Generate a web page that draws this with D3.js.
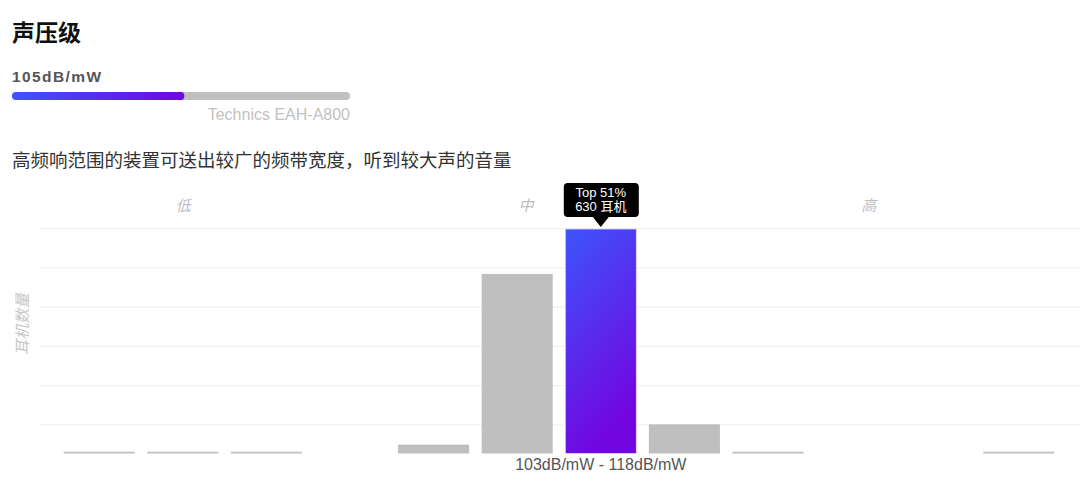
<!DOCTYPE html>
<html>
<head>
<meta charset="utf-8">
<script src="https://cdn.jsdelivr.net/npm/d3@7"></script>
<style>
  body { margin: 0; background: #fff; }
  svg { display: block; font-family: "Liberation Sans", "Noto Sans CJK SC", sans-serif; }
</style>
</head>
<body>
<div id="chart"></div>
<script>
var w = 1080, h = 480;

// data
var bins = ["b1", "b2", "b3", "b4", "b5", "b6", "b7", "b8", "b9", "b10", "b11", "b12"];
var counts = [5, 5, 5, 0, 25, 504, 630, 82, 5, 0, 0, 5];
var zones = ["低", "中", "高"];
var activeBin = "b7";
var activeRange = "103dB/mW - 118dB/mW";
var percentile = 51;
var deviceValue = "105dB/mW";
var deviceName = "Technics EAH-A800";

var svg = d3.select("#chart")
  .append("svg")
  .attr("width", w)
  .attr("height", h);

var defs = svg.append("defs");
var grad = defs.append("linearGradient")
  .attr("id", "barGrad")
  .attr("x1", "0%").attr("y1", "0%")
  .attr("x2", "35%").attr("y2", "100%");
grad.append("stop").attr("offset", "0%").attr("stop-color", "#3d55fb");
grad.append("stop").attr("offset", "100%").attr("stop-color", "#7206e0");

var grad2 = defs.append("linearGradient")
  .attr("id", "trackGrad")
  .attr("x1", "0%").attr("y1", "0%")
  .attr("x2", "100%").attr("y2", "0%");
grad2.append("stop").attr("offset", "0%").attr("stop-color", "#3d55fb");
grad2.append("stop").attr("offset", "100%").attr("stop-color", "#7206e0");

// header
svg.append("text")
  .attr("x", 12).attr("y", 41)
  .style("font-size", "23px")
  .style("font-weight", "bold")
  .style("fill", "#111")
  .text("声压级");

svg.append("text")
  .attr("x", 12).attr("y", 82)
  .style("font-size", "15.5px")
  .style("font-weight", "bold")
  .style("letter-spacing", "1.4px")
  .style("fill", "#555")
  .text(deviceValue);

var track = d3.scaleLinear().domain([0, 100]).range([12, 350]);

svg.append("rect")
  .attr("x", track(0)).attr("y", 92)
  .attr("width", track(100) - track(0)).attr("height", 8)
  .attr("rx", 4)
  .style("fill", "#c0c0c0");

svg.append("rect")
  .attr("x", track(0)).attr("y", 92)
  .attr("width", track(percentile) - track(0)).attr("height", 8)
  .attr("rx", 4)
  .style("fill", "url(#trackGrad)");

svg.append("text")
  .attr("x", track(100)).attr("y", 120)
  .attr("text-anchor", "end")
  .style("font-size", "16px")
  .style("fill", "#c2c2c2")
  .text(deviceName);

svg.append("text")
  .attr("x", 12).attr("y", 167)
  .style("font-size", "18.5px")
  .style("fill", "#333")
  .text("高频响范围的装置可送出较广的频带宽度，听到较大声的音量");

// histogram
var x = d3.scaleBand()
  .domain(bins)
  .range([40, 1078])
  .paddingInner(0.15)
  .paddingOuter(0.283);

var y = d3.scaleLinear()
  .domain([0, d3.max(counts)])
  .range([453.5, 229]);

var grid = d3.scaleLinear().domain([0, 6]).range([464.3, 228.5]);

svg.append("g")
  .selectAll("line")
  .data(d3.range(1, 7))
  .enter().append("line")
  .attr("x1", 40).attr("x2", w)
  .attr("y1", function(d) { return grid(d); })
  .attr("y2", function(d) { return grid(d); })
  .style("stroke", "#ececec")
  .style("stroke-width", 1);

var zoneX = d3.scaleBand().domain(zones).range([12, 1040]);

svg.append("g")
  .selectAll("text")
  .data(zones)
  .enter().append("text")
  .attr("x", function(d) { return zoneX(d) + zoneX.bandwidth() / 2; })
  .attr("y", 211)
  .attr("text-anchor", "middle")
  .style("font-size", "15px")
  .style("font-style", "italic")
  .style("fill", "#bdbdbd")
  .text(function(d) { return d; });

svg.append("text")
  .attr("transform", "translate(28,324) rotate(-90) skewX(-12)")
  .attr("text-anchor", "middle")
  .style("font-size", "15.5px")
  .style("fill", "#c8c8c8")
  .text("耳机数量");

var data = bins.map(function(b, i) { return {bin: b, count: counts[i]}; });

svg.append("g")
  .selectAll("rect")
  .data(data.filter(function(d) { return d.count > 0; }))
  .enter().append("rect")
  .attr("x", function(d) { return x(d.bin); })
  .attr("y", function(d) { return y(d.count); })
  .attr("width", x.bandwidth())
  .attr("height", function(d) { return y(0) - y(d.count); })
  .style("fill", function(d) { return d.bin == activeBin ? "url(#barGrad)" : "#bfbfbf"; })
  .style("stroke", function(d) { return d.bin == activeBin ? "#eadcff" : "none"; })
  .style("stroke-width", 0.8);

// x label under the active bar
var cx = x(activeBin) + x.bandwidth() / 2;
svg.append("text")
  .attr("x", cx).attr("y", 470)
  .attr("text-anchor", "middle")
  .style("font-size", "16px")
  .style("fill", "#555")
  .text(activeRange);

// tooltip
var activeCount = counts[bins.indexOf(activeBin)];
var tipBottom = y(activeCount) - 12;
var tip = svg.append("g");
tip.append("rect")
  .attr("x", cx - 37).attr("y", tipBottom - 34)
  .attr("width", 75).attr("height", 34)
  .attr("rx", 4)
  .style("fill", "#000");
tip.append("path")
  .attr("d", "M" + (cx - 8) + "," + tipBottom + "L" + cx + "," + (tipBottom + 10) + "L" + (cx + 8) + "," + tipBottom + "Z")
  .style("fill", "#000");
tip.append("text")
  .attr("x", cx).attr("y", tipBottom - 20)
  .attr("text-anchor", "middle")
  .style("font-size", "13px")
  .style("fill", "#fff")
  .text("Top " + percentile + "%");
tip.append("text")
  .attr("x", cx).attr("y", tipBottom - 6)
  .attr("text-anchor", "middle")
  .style("font-size", "13px")
  .style("fill", "#fff")
  .text(activeCount + " 耳机");
</script>
</body>
</html>
